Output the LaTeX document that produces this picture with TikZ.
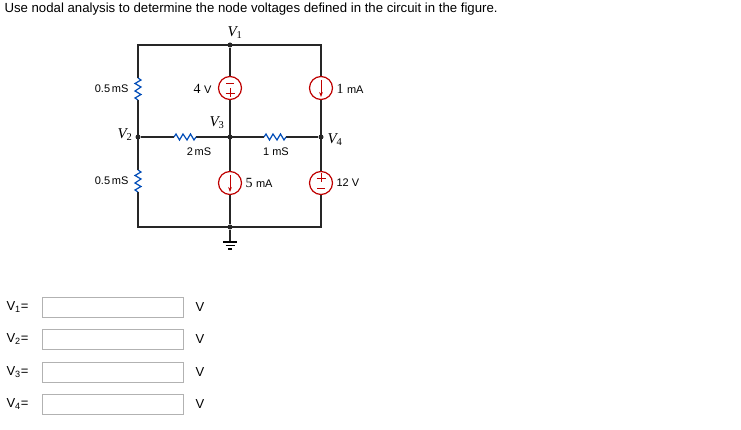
\documentclass[tikz,border=0pt]{standalone}
\usepackage{fontspec}
\setsansfont{Liberation Sans}
\setmainfont{Liberation Serif}
\usetikzlibrary{arrows.meta}
\begin{document}
\begin{tikzpicture}[x=1pt,y=-1pt,
  wire/.style={line width=2pt,black!85},
  src/.style={circle,draw=red!75!black,fill=white,line width=1.2pt,minimum size=23pt,inner sep=0pt},
  dotn/.style={circle,fill=black!85,inner sep=0pt,minimum size=5pt},
  res/.style={line width=1.2pt,draw=blue!60!black!70!cyan},
  lbl/.style={font=\sffamily\fontsize{11}{12}\selectfont},
  vl/.style={font=\itshape\fontsize{15}{16}\selectfont},
  box/.style={draw=black!30,minimum width=141pt,minimum height=20pt,inner sep=0pt,fill=white},
  ans/.style={font=\sffamily\fontsize{13}{14}\selectfont,anchor=west}]
\useasboundingbox (0,0) rectangle (741,430);
\node[anchor=west,font=\sffamily\fontsize{13.2}{14}\selectfont] (q) at (1,9) {Use nodal analysis to determine the node voltages defined in the circuit in the figure.};
% nodes
\coordinate (tl) at (138,45); \node[dotn] (n1) at (230,45) {}; \coordinate (tr) at (321,45);
\node[dotn] (n2) at (138,137) {}; \node[dotn] (n3) at (230,137) {}; \node[dotn] (n4) at (321,137) {};
\coordinate (bl) at (138,227); \node[dotn] (ng) at (230,227) {}; \coordinate (br) at (321,227);
\draw[wire] (tl) -- (tr) -- (br) -- (bl) -- cycle;
\coordinate (g) at (230,242);
\draw[wire] (n1) -- (ng) -- (g);
\draw[wire] (n2) -- (n4);
% ground
\draw[line width=1.2pt] (223,242) -- (237,242) (225.5,245.5) -- (234.5,245.5) (228,249) -- (232,249);
% resistors (white gaps)
\foreach \y in {89,181}{
  \fill[white] (134,\y-11) rectangle (142,\y+11);
  \draw[res] (138,\y-11) -- (141,\y-9) -- (135,\y-5.5) -- (141,\y-2) -- (135,\y+2) -- (141,\y+5.5) -- (135,\y+9) -- (138,\y+11);}
\foreach \x in {185,275}{
  \fill[white] (\x-11,133) rectangle (\x+11,141);
  \draw[res] (\x-11,137) -- (\x-9,134) -- (\x-5.5,140) -- (\x-2,134) -- (\x+2,140) -- (\x+5.5,134) -- (\x+9,140) -- (\x+11,137);}
% sources
\node[src] (s4) at (230,88) {}; \draw[red!75!black,line width=0.8pt] (226,83)--(234,83) (225.5,93)--(234.5,93) (230,88.5)--(230,97.5);
\node[src] (s1) at (321,88) {}; \draw[red!75!black,line width=0.9pt,-{Stealth[length=5pt]}] (321,80) -- (321,97);
\node[src] (s5) at (230,183) {}; \draw[red!75!black,line width=0.9pt,-{Stealth[length=5pt]}] (230,175) -- (230,192);
\node[src] (s12) at (321,183) {}; \draw[red!75!black,line width=0.8pt] (316.5,178)--(325.5,178) (321,173.5)--(321,182.5) (317,188)--(325,188);
% labels
\node[lbl,anchor=east] (l1) at (132,89) {0.5\,mS};
\node[lbl,anchor=east] (l2) at (132,181) {0.5\,mS};
\node[anchor=east,font=\fontsize{14}{15}\selectfont] (l3) at (215,89) {4 \sffamily\fontsize{11}{12}\selectfont V};
\node[anchor=west,font=\fontsize{14}{15}\selectfont] (l4) at (333,89) {1 \sffamily\fontsize{11}{12}\selectfont mA};
\node[anchor=west,font=\fontsize{14}{15}\selectfont] (l5) at (242,183) {5 \sffamily\fontsize{11}{12}\selectfont mA};
\node[lbl,anchor=west] (l6) at (333,183) {12 V};
\node[lbl] (l7) at (199,152) {2\,mS};
\node[lbl] (l8) at (276,152) {1 mS};
\node[vl] (v1) at (235,33) {V\textsubscript{\upshape 1}};
\node[vl] (v2) at (125,135) {V\textsubscript{\upshape 2}};
\node[vl] (v3) at (217,123) {V\textsubscript{\upshape 3}};
\node[vl] (v4) at (335,140) {V\textsubscript{\upshape 4}};
% answers
\foreach \i/\y in {1/307,2/339,3/372,4/404}{
  \node[ans] (a\i) at (3,\y) {V\textsubscript{\i}=};
  \node[box] (b\i) at (113,\y) {};
  \node[ans] (u\i) at (192,\y) {V};}
\end{tikzpicture}
\end{document}
